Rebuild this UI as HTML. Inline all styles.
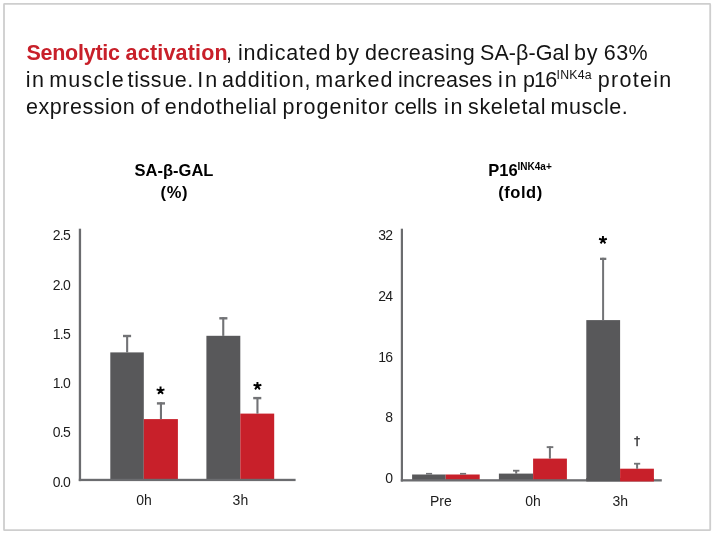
<!DOCTYPE html>
<html>
<head>
<meta charset="utf-8">
<style>
html,body{margin:0;padding:0;background:#fff;}
body{width:720px;height:536px;position:relative;overflow:hidden;font-family:"Liberation Sans",sans-serif;color:#231f20;}
.t{position:absolute;white-space:nowrap;line-height:1;}
.w{position:absolute;white-space:nowrap;line-height:1;font-size:21.5px;color:#141414;}
.wb{color:#c8202a;font-weight:bold;}
.ws{font-size:12.3px;}
.ct{font-weight:bold;font-size:16.5px;color:#000;text-align:center;}
.ct sup{font-size:10px;vertical-align:baseline;position:relative;top:-6px;line-height:0;}
.yl{font-size:14px;letter-spacing:-0.7px;color:#1c1c1c;text-align:right;width:40px;}
.xl{font-size:14px;color:#1c1c1c;text-align:center;width:40px;}
</style>
</head>
<body>
<div id="wrap" style="position:absolute;left:0;top:0;width:720px;height:536px;will-change:transform;">
<svg width="720" height="536" viewBox="0 0 720 536" style="position:absolute;left:0;top:0;"><rect x="4" y="3.95" width="706.2" height="526.2" rx="0.5" fill="#fff" stroke="#cecece" stroke-width="1.8"/></svg>

<!-- heading -->
<span class="w wb" style="left:26.4px;top:42.5px;letter-spacing:-0.25px;">Senolytic</span>
<span class="w wb" style="left:125.6px;top:42.5px;letter-spacing:0.19px;">activation</span>
<span class="w" style="left:226.1px;top:42.5px;letter-spacing:0.00px;">,</span>
<span class="w" style="left:238.0px;top:42.5px;letter-spacing:0.80px;">indicated</span>
<span class="w" style="left:335.5px;top:42.5px;letter-spacing:0.74px;">by</span>
<span class="w" style="left:365.0px;top:42.5px;letter-spacing:0.49px;">decreasing</span>
<span class="w" style="left:480.1px;top:42.5px;letter-spacing:0.04px;">SA-&beta;-Gal</span>
<span class="w" style="left:574.1px;top:42.5px;letter-spacing:0.74px;">by</span>
<span class="w" style="left:603.8px;top:42.5px;letter-spacing:0.41px;">63%</span>
<span class="w" style="left:25.7px;top:70.4px;letter-spacing:1.52px;">in</span>
<span class="w" style="left:49.2px;top:70.4px;letter-spacing:1.26px;">muscle</span>
<span class="w" style="left:127.6px;top:70.4px;letter-spacing:0.58px;">tissue.</span>
<span class="w" style="left:197.3px;top:70.4px;letter-spacing:1.96px;">In</span>
<span class="w" style="left:221.9px;top:70.4px;letter-spacing:0.92px;">addition,</span>
<span class="w" style="left:315.2px;top:70.4px;letter-spacing:1.13px;">marked</span>
<span class="w" style="left:397.9px;top:70.4px;letter-spacing:0.29px;">increases</span>
<span class="w" style="left:497.9px;top:70.4px;letter-spacing:2.12px;">in</span>
<span class="w" style="left:523.0px;top:70.4px;letter-spacing:-0.88px;">p16</span>
<span class="w ws" style="left:556.6px;top:69.4px;letter-spacing:0.18px;">INK4a</span>
<span class="w" style="left:597.7px;top:70.4px;letter-spacing:1.30px;">protein</span>
<span class="w" style="left:26.0px;top:97.1px;letter-spacing:0.52px;">expression</span>
<span class="w" style="left:140.8px;top:97.1px;letter-spacing:0.67px;">of</span>
<span class="w" style="left:164.7px;top:97.1px;letter-spacing:0.81px;">endothelial</span>
<span class="w" style="left:282.5px;top:97.1px;letter-spacing:0.98px;">progenitor</span>
<span class="w" style="left:394.3px;top:97.1px;letter-spacing:-0.04px;">cells</span>
<span class="w" style="left:443.9px;top:97.1px;letter-spacing:1.72px;">in</span>
<span class="w" style="left:468.0px;top:97.1px;letter-spacing:0.65px;">skeletal</span>
<span class="w" style="left:550.5px;top:97.1px;letter-spacing:0.52px;">muscle.</span>

<!-- chart titles -->
<div class="t ct" id="c1a" style="left:94px;width:160px;top:162.3px;">SA-&beta;-GAL</div>
<div class="t ct" id="c1b" style="left:94.4px;width:160px;top:184.3px;letter-spacing:0.7px;">(%)</div>
<div class="t ct" id="c2a" style="left:440px;width:160px;top:162.3px;">P16<sup>INK4a+</sup></div>
<div class="t ct" id="c2b" style="left:440.5px;width:160px;top:184.3px;letter-spacing:0.55px;">(fold)</div>

<svg id="chart" width="720" height="536" viewBox="0 0 720 536" style="position:absolute;left:0;top:0;">
<g fill="#58585a">
<rect x="110.3" y="352.4" width="33.5" height="127"/>
<rect x="206.4" y="335.8" width="33.9" height="144"/>
<rect x="412.1" y="474.5" width="33.6" height="5.5"/>
<rect x="498.9" y="473.6" width="34.2" height="6.4"/>
<rect x="586.3" y="320.1" width="33.8" height="160"/>
</g>
<g fill="#c8202a">
<rect x="143.8" y="419.1" width="34.1" height="60.5"/>
<rect x="240.3" y="413.6" width="33.9" height="66"/>
<rect x="445.7" y="474.5" width="34" height="5.5"/>
<rect x="533.1" y="458.6" width="33.8" height="21.4"/>
<rect x="620.1" y="468.7" width="33.8" height="11.3"/>
</g>
<g fill="#727376">
<rect x="126.1" y="335" width="2.1" height="17.5"/><rect x="123" y="334.8" width="8.1" height="2.4"/>
<rect x="159.9" y="402.3" width="2.1" height="16.9"/><rect x="156.9" y="402.2" width="8.1" height="2.4"/>
<rect x="222.2" y="317.3" width="2.1" height="18.6"/><rect x="219.3" y="317.1" width="8.1" height="2.4"/>
<rect x="256.4" y="397" width="2.1" height="16.7"/><rect x="253.2" y="396.9" width="8.1" height="2.4"/>
<rect x="426" y="472.9" width="6.1" height="1.7"/>
<rect x="460" y="472.9" width="6.1" height="1.7"/>
<rect x="515.2" y="470" width="2" height="3.7"/><rect x="513" y="469.8" width="6.4" height="1.8"/>
<rect x="548.9" y="446.4" width="2" height="12.3"/><rect x="546.7" y="446.2" width="6.6" height="1.9"/>
<rect x="602.1" y="257.8" width="2" height="62.4"/><rect x="600" y="257.7" width="6.3" height="2.3"/>
<rect x="636.1" y="463" width="2" height="5.8"/><rect x="634" y="462.8" width="6.2" height="1.8"/>
</g>
<g fill="#6b6c6f">
<rect x="78.8" y="228.7" width="2.3" height="252.4"/>
<rect x="78.8" y="478.8" width="216.8" height="2.3"/>
<rect x="400.8" y="228.7" width="2.2" height="252.8"/>
<rect x="400.8" y="479.2" width="261" height="2.3"/>
</g>
<rect x="586.3" y="478" width="33.8" height="3.5" fill="#58585a"/>
<rect x="620.1" y="478" width="33.8" height="3.5" fill="#c8202a"/>
<g stroke="#000" stroke-width="1.95" fill="none">
<path id="ast" d="M0 0L0.00 -4.10M0 0L3.90 -1.27M0 0L2.41 3.32M0 0L-2.41 3.32M0 0L-3.90 -1.27" transform="translate(160.55 390.6)"/>
<path d="M0 0L0.00 -4.10M0 0L3.90 -1.27M0 0L2.41 3.32M0 0L-2.41 3.32M0 0L-3.90 -1.27" transform="translate(257.45 386)"/>
<path d="M0 0L0.00 -4.10M0 0L3.90 -1.27M0 0L2.41 3.32M0 0L-2.41 3.32M0 0L-3.90 -1.27" transform="translate(602.95 240)"/>
</g>
<g fill="#454547">
<rect x="636.3" y="436.2" width="1.6" height="10"/>
<rect x="634.2" y="438" width="5.7" height="1.4"/>
</g>
</svg>
<!-- chart 1 y labels -->
<div class="t yl" style="left:30px;top:228.3px;">2.5</div>
<div class="t yl" style="left:30px;top:277.5px;">2.0</div>
<div class="t yl" style="left:30px;top:326.8px;">1.5</div>
<div class="t yl" style="left:30px;top:376.0px;">1.0</div>
<div class="t yl" style="left:30px;top:425.3px;">0.5</div>
<div class="t yl" style="left:30px;top:474.5px;">0.0</div>
<!-- chart 1 x labels -->
<div class="t xl" style="left:124px;top:493.2px;">0h</div>
<div class="t xl" style="left:220.4px;top:493.2px;">3h</div>

<!-- chart 2 y labels -->
<div class="t yl" style="left:352.4px;top:228.1px;">32</div>
<div class="t yl" style="left:352.4px;top:288.8px;">24</div>
<div class="t yl" style="left:352.4px;top:349.6px;">16</div>
<div class="t yl" style="left:352.4px;top:410.3px;">8</div>
<div class="t yl" style="left:352.4px;top:471.1px;">0</div>
<!-- chart 2 x labels -->
<div class="t xl" style="left:420.8px;top:493.6px;">Pre</div>
<div class="t xl" style="left:513px;top:493.6px;">0h</div>
<div class="t xl" style="left:600.3px;top:493.6px;">3h</div>
</div>
</body>
</html>
